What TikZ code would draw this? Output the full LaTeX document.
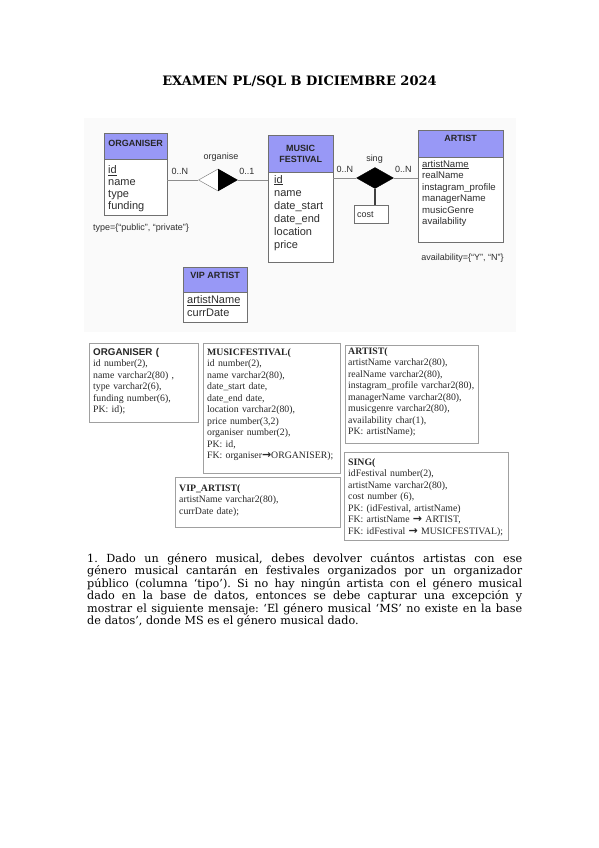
\documentclass[tikz,border=0pt]{standalone}
\usepackage{fontspec}
\setmainfont{Liberation Serif}
\setsansfont{Liberation Sans}
\newfontfamily\examfont{DejaVu Serif}
\newfontfamily\arrowfont{DejaVu Sans}
\usetikzlibrary{positioning,shapes.geometric}

\definecolor{erhead}{RGB}{152,152,246}
\definecolor{erline}{RGB}{112,112,112}
\definecolor{ertext}{RGB}{45,45,45}
\definecolor{tabline}{RGB}{160,160,160}
\definecolor{erback}{RGB}{250,250,250}

\newcommand{\fkto}{{\arrowfont\bfseries\fontsize{11}{11}\selectfont →}}

\tikzset{
  ehead/.style={draw=erline, fill=erhead, anchor=north west, inner xsep=0pt, inner ysep=4pt,
    font=\sffamily\bfseries\fontsize{9}{11}\selectfont, text=black!85, align=center},
  ebody/.style={draw=erline, fill=white, anchor=north west, inner sep=0pt},
  eattr/.style={anchor=base west, inner sep=0pt, text width=80, align=left, text=ertext},
  rel/.style={draw=erline!80, line width=1pt},
  card/.style={font=\sffamily\fontsize{9}{10}\selectfont, text=ertext, above=3pt, inner sep=2pt},
  erlbl/.style={font=\sffamily\fontsize{9}{10}\selectfont, text=ertext},
  tbox/.style={draw=tabline, line width=0.9pt, anchor=north west, inner sep=0pt},
  tsql/.style={anchor=base west, inner sep=0pt, text width=160, align=left,
    font=\fontsize{9.8}{11.5}\selectfont, text=black!85}
}

\begin{document}
\begin{tikzpicture}[x=1pt,y=-1pt]
  \useasboundingbox (0,0) rectangle (599,848);

  \node[font=\examfont\bfseries\fontsize{13}{15}\selectfont, anchor=base] (title) at (299.5,86)
    {EXAMEN PL/SQL B DICIEMBRE 2024};

  % ER diagram
  \fill[erback] (84,118) rectangle (516,332);

  \node[ehead, minimum width=63, minimum height=26, text height=6.5pt, text depth=5pt] (org) at (104,133) {ORGANISER};
  \node[ebody, minimum width=63, minimum height=56] (orgb) at (org.south west) {};
  \node[eattr, font=\sffamily\fontsize{11}{11.9}\selectfont] (orga) at (108,173.5)
    {\underline{id}\\name\\type\\funding};

  \node[ehead, minimum width=65, minimum height=37] (mf) at (268,135) {MUSIC\\FESTIVAL};
  \node[ebody, minimum width=65, minimum height=90] (mfb) at (mf.south west) {};
  \node[eattr, font=\sffamily\fontsize{11}{13.1}\selectfont] (mfa) at (274,183)
    {\underline{id}\\name\\date\_start\\date\_end\\location\\price};

  \node[ehead, minimum width=85, minimum height=27, text height=6.5pt, text depth=11pt] (art) at (418,130) {ARTIST};
  \node[ebody, minimum width=85, minimum height=85] (artb) at (art.south west) {};
  \node[eattr, font=\sffamily\fontsize{9.6}{11.5}\selectfont] (arta) at (422,167)
    {\underline{artistName}\\realName\\instagram\_profile\\managerName\\musicGenre\\availability};

  \node[ehead, minimum width=64, minimum height=25, text height=6.5pt, text depth=9pt] (vip) at (183,267) {VIP ARTIST};
  \node[ebody, minimum width=64, minimum height=30] (vipb) at (vip.south west) {};
  \node[eattr, font=\sffamily\fontsize{11}{13}\selectfont] (vipa) at (187,303.5)
    {\underline{artistName}\\currDate};

  \node[diamond, draw=erline, fill=white, minimum width=39, minimum height=22, inner sep=0pt] (organise) at (218,180) {};
  \fill[black] (organise.north) -- (organise.east) -- (organise.south) -- cycle;
  \node[diamond, draw=black, fill=black, minimum width=37, minimum height=21, inner sep=0pt] (sing) at (375,178) {};

  \node[erlbl] (organisel) at (221,157) {organise};
  \node[erlbl] (singl) at (374.5,159) {sing};

  \node[draw=erline, fill=white, anchor=north west, minimum height=18, text width=28, inner xsep=3pt,
    align=left, font=\sffamily\fontsize{9}{10}\selectfont, text=ertext] (cost) at (354,205) {cost};

  \path (organise.west -| orgb.east) edge[rel] node[card, pos=0.4] {0..N} (organise.west);
  \path (organise.east) edge[rel] node[card, pos=0.3] {0..1} (organise.east -| mfb.west);
  \path (sing.west -| mfb.east) edge[rel] node[card] {0..N} (sing.west);
  \path (sing.east) edge[rel] node[card, pos=0.4] {0..N} (sing.east -| artb.west);
  \draw[line width=2pt, black!75] (sing.south) -- (sing.south |- cost.north);

  \node[erlbl] (orgnote) at (141,228) {type=\{“public”, “private”\}};
  \node[erlbl] (artnote) at (462.5,258) {availability=\{“Y”, “N”\}};

  % tables
  \node[tbox, minimum width=109, minimum height=79] (torg) at (89,343) {};
  \node[tsql] (torgt) at (93,355)
    {{\sffamily\bfseries ORGANISER (}\\id number(2),\\name varchar2(80) ,\\type varchar2(6),\\funding number(6),\\PK: id);};

  \node[tbox, minimum width=137, minimum height=130] (tmf) at (203,343) {};
  \node[tsql] (tmft) at (207,355)
    {\textbf{MUSICFESTIVAL(}\\id number(2),\\name varchar2(80),\\date\_start date,\\date\_end date,\\location varchar2(80),\\price number(3,2)\\organiser number(2),\\PK: id,\\FK: organiser\fkto ORGANISER);};

  \node[tbox, minimum width=133, minimum height=98] (tart) at (345,345) {};
  \node[tsql] (tartt) at (348,354)
    {\textbf{ARTIST(}\\artistName varchar2(80),\\realName varchar2(80),\\instagram\_profile varchar2(80),\\managerName varchar2(80),\\musicgenre varchar2(80),\\availability char(1),\\PK: artistName);};

  \node[tbox, minimum width=164, minimum height=88] (tsing) at (344,452) {};
  \node[tsql] (tsingt) at (348,465)
    {\textbf{SING(}\\idFestival number(2),\\artistName varchar2(80),\\cost number (6),\\PK: (idFestival, artistName)\\FK: artistName \fkto{} ARTIST,\\FK: idFestival \fkto{} MUSICFESTIVAL);};

  \node[tbox, minimum width=165, minimum height=50] (tvip) at (175,477) {};
  \node[tsql] (tvipt) at (179,491)
    {\textbf{VIP\_ARTIST(}\\artistName varchar2(80),\\currDate date);};

  % question
  \node[anchor=base west, inner sep=0pt, text width=435, align=justify,
    font=\examfont\frenchspacing\fontsize{11.2}{12.5}\selectfont] (question) at (87,562)
    {1. Dado un género musical, debes devolver cuántos artistas con ese\linebreak
     género musical cantarán en festivales organizados por un organizador\linebreak
     público (columna ‘tipo’). Si no hay ningún artista con el género musical\linebreak
     dado en la base de datos, entonces se debe capturar una excepción y\linebreak
     mostrar el siguiente mensaje: ‘El género musical ‘MS’ no existe en la base\linebreak
     de datos’, donde MS es el género musical dado.};
\end{tikzpicture}
\end{document}
